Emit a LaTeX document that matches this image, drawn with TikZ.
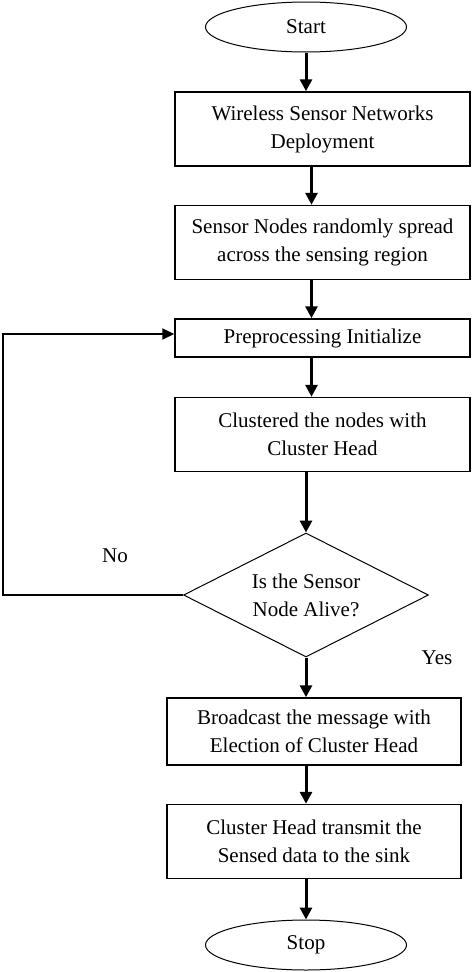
\documentclass[tikz,border=0pt]{standalone}
\usepackage{fontspec}
\setmainfont{Liberation Serif}
\usetikzlibrary{shapes.geometric, arrows.meta}

\begin{document}
\begin{tikzpicture}[x=1pt, y=-1pt,
        every node/.style={font=\fontsize{21}{28}\selectfont},
        process/.style={draw, line width=1.5pt, minimum width=295pt, minimum height=74pt, align=center, inner sep=0pt},
        terminal/.style={draw, ellipse, line width=1pt, minimum width=201pt, minimum height=50pt, inner sep=0pt},
        decision/.style={draw, diamond, line width=1pt, minimum width=245pt, minimum height=124pt, shape aspect=2, inner sep=0pt, align=center},
        flow/.style={-{Triangle[length=12pt,width=12pt]}, line width=3pt}]
        \useasboundingbox (0,0) rectangle (474,972);
        \node[terminal] (start) at (306,27) {Start};
        \node[process] (deploy) at (322.5,129) {Wireless Sensor Networks\\Deployment};
        \node[process] (spread) at (322.5,242.5) {Sensor Nodes randomly spread\\across the sensing region};
        \node[process, minimum height=38pt] (init) at (322.5,338) {Preprocessing Initialize};
        \node[process] (cluster) at (322.5,434.5) {Clustered the nodes with\\Cluster Head};
        \node[decision] (alive) at (306,595) {Is the Sensor\\Node Alive?};
        \node[process, minimum width=294pt, minimum height=67pt] (elect) at (314,731.5) {Broadcast the message with\\Election of Cluster Head};
        \node[process, minimum width=294pt] (sink) at (314,841.5) {Cluster Head transmit the\\Sensed data to the sink};
        \node[terminal] (stop) at (306,945) {Stop};
        \node (no) at (115,556) {No};
        \node (yes) at (437,658) {Yes};
        \draw[flow] (start) -- (start |- deploy.north);
        \draw[flow] ([xshift=-11pt]deploy.south) -- ([xshift=-11pt]spread.north);
        \draw[flow] ([xshift=-11pt]spread.south) -- ([xshift=-11pt]init.north);
        \draw[flow] ([xshift=-11pt]init.south) -- ([xshift=-11pt]cluster.north);
        \draw[flow] (cluster.south -| alive) -- (alive.north);
        \draw[flow] (alive.south) -- (alive |- elect.north);
        \draw[flow] (elect.south -| alive) -- (alive |- sink.north);
        \draw[flow] (sink.south -| stop) -- (stop.north);
        \coordinate (back) at (3,595);
        \draw[line width=2pt, -{Triangle[length=12pt,width=11pt]}] (alive.west) -- (back) |- ([yshift=4pt]init.west);
    \end{tikzpicture}
\end{document}
